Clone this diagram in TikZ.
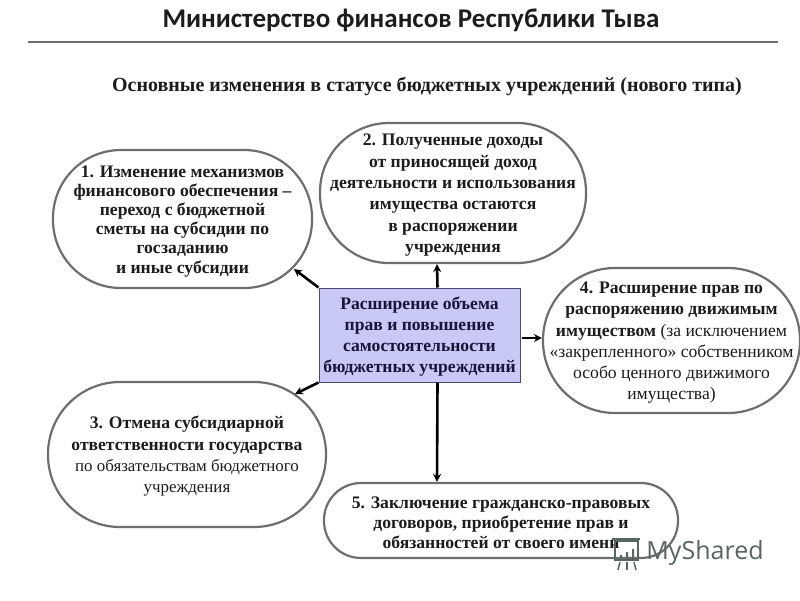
\documentclass[tikz,border=0pt]{standalone}
\usepackage{fontspec}
\usetikzlibrary{arrows.meta,calc}
\setmainfont{Liberation Serif}
\newfontfamily\titlefont{Carlito}
\newfontfamily\wmfont{Open Sans}
\definecolor{txt}{HTML}{1C1C1C}
\definecolor{edge}{HTML}{6E6E6E}
\definecolor{boxfill}{HTML}{C9C9F7}
\definecolor{boxedge}{HTML}{4A4A70}
\definecolor{boxtxt}{HTML}{16163A}
\definecolor{wm}{HTML}{566660}
\newcommand{\rt}{\mdseries}
\newcommand{\rts}{\mdseries\fontsize{16.9}{21.3}\selectfont}
\newcommand{\up}{\rule{0pt}{16pt}}
\tikzset{
 x=1pt,y=-1pt,
 bubble/.style={draw=edge,line width=2.2pt,fill=white,align=center,text=txt,inner sep=0pt,rounded corners=#1},
 arrow/.style={draw=black,line width=2.6pt,-{Stealth[length=8pt,width=8pt]}},
 lbl/.style={inner sep=0pt,text=txt,anchor=center},
 lh/.style={font=\bfseries\fontsize{17.6}{#1}\selectfont}
}
\begin{document}
\begin{tikzpicture}
\useasboundingbox (0,0) rectangle (800,600);
\node[lbl,font=\titlefont\bfseries\fontsize{27}{30}\selectfont] (title) at (411,20) {Министерство финансов Республики Тыва};
\coordinate (ruleL) at (28,42);
\coordinate (ruleR) at (778,42);
\draw[edge,line width=1.2pt] (ruleL) -- (ruleR);
\node[lbl,font=\bfseries\fontsize{20}{22}\selectfont] (sub) at (427,86) {Основные изменения в статусе бюджетных учреждений (нового типа)};

\node[bubble=68pt,lh=19.2,minimum width=259pt,minimum height=138pt] (b1) at (182.5,219) {\up 1. Изменение механизмов\\ финансового обеспечения –\\ переход с бюджетной\\ сметы на субсидии по\\ госзаданию\\ и иные субсидии};
\node[bubble=69pt,lh=21.4,minimum width=266pt,minimum height=140pt] (b2) at (453,193) {\up 2. Полученные доходы\\ от приносящей доход\\ деятельности и использования\\ имущества остаются\\ в распоряжении\\ учреждения};
\node[bubble=72pt,lh=21.3,minimum width=278pt,minimum height=145pt] (b3) at (187,454.5) {\up 3. Отмена субсидиарной\\ ответственности государства\\ \rts по обязательствам бюджетного\\ \rts учреждения};
\node[bubble=72pt,lh=21.2,minimum width=257pt,minimum height=145pt] (b4) at (671.5,340.5) {\up 4. Расширение прав по\\ распоряжению движимым\\ имуществом \rt (за исключением\\ \rt «закрепленного» собственником\\ \rt особо ценного движимого\\ \rt имущества)};
\node[bubble=37pt,lh=20,minimum width=354pt,minimum height=75pt] (b5) at (501,520.5) {\up 5. Заключение гражданско-правовых\\ договоров, приобретение прав и\\ обязанностей от своего имени};
\node[draw=boxedge,line width=1pt,fill=boxfill,text=boxtxt,align=center,inner sep=0pt,lh=21,minimum width=201pt,minimum height=94pt] (mid) at (419.5,335) {\up Расширение объема\\ прав и повышение\\ самостоятельности\\ бюджетных учреждений};

\coordinate (upS) at ($(mid.north)+(18,0)$);
\coordinate (upE) at ($(b2.south)+(-16,0)$);
\coordinate (dnS) at ($(mid.south)+(18,0)$);
\coordinate (dnE) at ($(b5.north)+(-64,0)$);
\coordinate (rtS) at ($(mid.east)+(1,3)$);
\coordinate (rtE) at ($(b4.west)+(0,-2.5)$);
\coordinate (luE) at (294,269);
\coordinate (ldE) at (295,394);
\draw[arrow] (upS) -- (upE);
\draw[arrow] (dnS) -- (dnE);
\draw[arrow] (rtS) -- (rtE);
\draw[arrow] (mid.north west) -- (luE);
\draw[arrow] (mid.south west) -- (ldE);

\node[lbl,text=wm,font=\wmfont\fontsize{25}{28}\selectfont] (wmark) at (705,553) {MyShared};
\begin{scope}[draw=wm,line width=1.5pt]
\draw (612,539) -- (640,539);
\draw (615,541) rectangle (638,560);
\draw (620,562) -- (618,570);
\draw (627,562) -- (627,570);
\draw (634,562) -- (636,570);
\fill[wm] (620,555) rectangle (622,559) (626,552) rectangle (628,559) (632,549) rectangle (634,559);
\end{scope}
\end{tikzpicture}
\end{document}
